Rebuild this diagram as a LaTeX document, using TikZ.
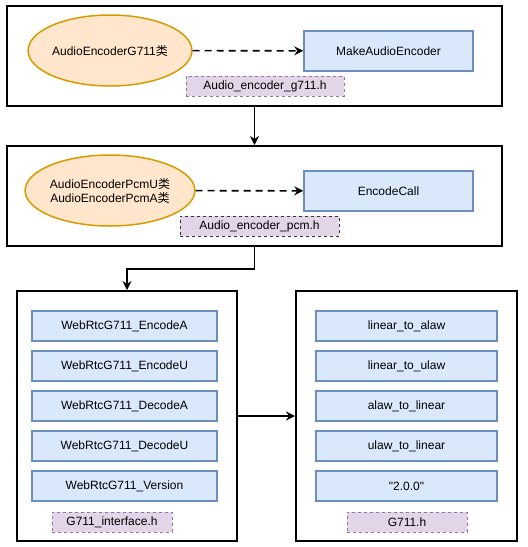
\documentclass[tikz,border=0pt]{standalone}
\usepackage{fontspec}
\setmainfont{Liberation Sans}
\newfontfamily\rawfont{Liberation Sans}
\newfontfamily\cjk{Noto Sans CJK SC}
\usetikzlibrary{shapes.geometric, arrows.meta}

\definecolor{clsfill}{HTML}{FFE6CC}
\definecolor{clsdraw}{HTML}{D79B00}
\definecolor{fnfill}{HTML}{DAE8FC}
\definecolor{fndraw}{HTML}{6C8EBF}
\definecolor{hfill}{HTML}{E1D5E7}
\definecolor{hdraw}{HTML}{9673A6}

\begin{document}
\begin{tikzpicture}[
    x=1pt, y=-1pt,
    every node/.style={font=\fontsize{12}{14}\selectfont, inner sep=0pt},
    >={Stealth[length=9pt, width=9pt, inset=3pt]},
    group/.style={draw=black, line width=2pt, fill=white},
    cls/.style={ellipse, draw=clsdraw, fill=clsfill, line width=1.5pt,
        minimum width=148, minimum height=71, align=center},
    fn/.style={draw=fndraw, fill=fnfill, line width=1.5pt,
        minimum height=30},
    hdr/.style={draw=hdraw, fill=hfill, dashed, line width=0.6pt,
        minimum height=20},
    link/.style={->, line width=1.6pt},
    calls/.style={link, dash pattern=on 7pt off 5pt},
]
\useasboundingbox (0,0) rectangle (528,547);

% === Layer 1: g711 encoder ===
\node[group, minimum width=495, minimum height=100] (enc) at (254.5,56) {};
\node[cls] (g711cls) at (110,50.5) {AudioEncoderG711{\cjk 类}};
\node[fn, minimum width=169, minimum height=40] (make) at (388.5,51) {MakeAudioEncoder};
\node[hdr, minimum width=158] (enchdr) at (265,86) {Audio\_encoder\_g711.h};
\draw[calls] (g711cls) -- (make);

% === Layer 2: pcm encoder ===
\node[group, minimum width=495, minimum height=100] (pcm) at (254.5,196) {};
\node[cls] (pcmcls) at (110,190.5) {AudioEncoderPcmU{\cjk 类}\\AudioEncoderPcmA{\cjk 类}};
\node[fn, minimum width=169, minimum height=40] (call) at (388.5,191) {EncodeCall};
\node[hdr, draw=black!80, minimum width=159] (pcmhdr) at (259.5,226) {Audio\_encoder\_pcm.h};
\draw[calls] (pcmcls) -- (call);

% === Layer 3: interface ===
\node[group, minimum width=220, minimum height=250] (iface) at (127,416) {};
\foreach \fname [count=\i] in {EncodeA, EncodeU, DecodeA, DecodeU, Version} {
    \node[fn, minimum width=185] (if\i) at (124.5,{286+40*\i}) {WebRtcG711\_\fname};
}
\node[hdr, minimum width=120] (ifhdr) at (112,522) {G711\_interface.h};

% === Layer 4: codec ===
\node[group, minimum width=221, minimum height=250] (codec) at (406.5,416) {};
\foreach \fname [count=\i] in {linear\_to\_alaw, linear\_to\_ulaw, alaw\_to\_linear, ulaw\_to\_linear, {\rawfont "2.0.0"}} {
    \node[fn, minimum width=181] (cd\i) at (406.5,{286+40*\i}) {\fname};
}
\node[hdr, minimum width=120] (cdhdr) at (407,522) {G711.h};

% === Connectors ===
\draw[link] (enc.south) -- (pcm.north);
\draw[link] (pcm.south) -- ++(0,22) -| (iface.north);
\draw[link] (iface.east) -- (codec.west);

\end{tikzpicture}
\end{document}
